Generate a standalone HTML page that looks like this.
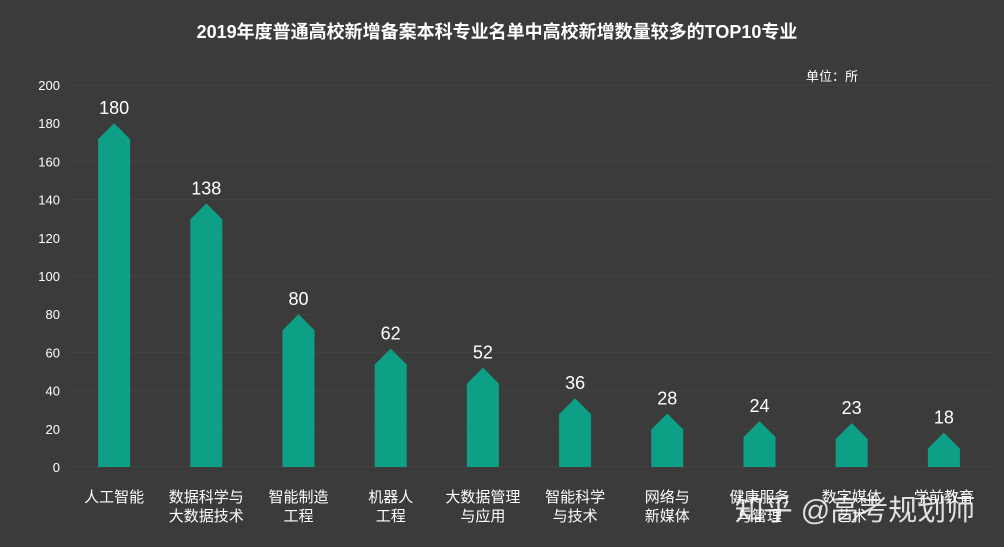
<!DOCTYPE html>
<html><head><meta charset="utf-8"><style>
body{margin:0;background:#3b3b3b;}
svg{display:block;font-family:"Liberation Sans","Noto Sans CJK SC",sans-serif;}
</style></head><body>
<svg id="c" width="1004" height="547">
<rect width="1004" height="547" fill="#3b3b3b"/>
<text x="497" y="38" text-anchor="middle" fill="#fff" font-size="18" font-weight="bold">2019年度普通高校新增备案本科专业名单中高校新增数量较多的TOP10专业</text>
<text x="858" y="81" text-anchor="end" fill="#fff" font-size="13">单位：所</text>
<g id="grid"></g><g id="bars"></g>
<text x="855" y="520" text-anchor="middle" fill="rgba(255,255,255,0.85)" font-size="29">知乎 @高考规划师</text>
</svg>
<script>
const categories=[["人工智能"],["数据科学与","大数据技术"],["智能制造","工程"],["机器人","工程"],["大数据管理","与应用"],["智能科学","与技术"],["网络与","新媒体"],["健康服务","与管理"],["数字媒体","艺术"],["学前教育"]];
const values=[180,138,80,62,52,36,28,24,23,18];
const yTicks=[0,20,40,60,80,100,120,140,160,180,200];
const NS="http://www.w3.org/2000/svg";
const y0=467,y1=85,x0=68,step=92.2;
const y=v=>y0-(v/200)*(y0-y1);
const xc=i=>x0+step*(i+0.5);
function mk(t,a,p){const e=document.createElementNS(NS,t);for(const k in a)e.setAttribute(k,a[k]);p.appendChild(e);return e;}
const g=document.getElementById('grid'),b=document.getElementById('bars');
yTicks.forEach(t=>{
 const l=mk('line',{x1:70,x2:995,y1:y(t),y2:y(t),stroke:'#434343','stroke-width':1},g);
 
 
 const tx=mk('text',{x:60,y:y(t)+5,'text-anchor':'end',fill:'#fff','font-size':13},g);
 tx.textContent=t;
 
 
});
values.forEach((v,i)=>{
 const c=xc(i),w=16,top=y(v),sh=Math.min(top+16,y0);
 const p=mk('polygon',{points:`${c-w},${y0} ${c-w},${sh} ${c},${top} ${c+w},${sh} ${c+w},${y0}`,fill:'#0ea086'},b);
 
 
 const t=mk('text',{x:c,y:top-9,'text-anchor':'middle',fill:'#fff','font-size':18},b);
 t.textContent=v;
 
 
 categories[i].forEach((s,j)=>{
  const ct=mk('text',{x:c,y:502+j*19,'text-anchor':'middle',fill:'#fff','font-size':15},b);
  ct.textContent=s;
  
  
 });
});
</script>
</body></html>
